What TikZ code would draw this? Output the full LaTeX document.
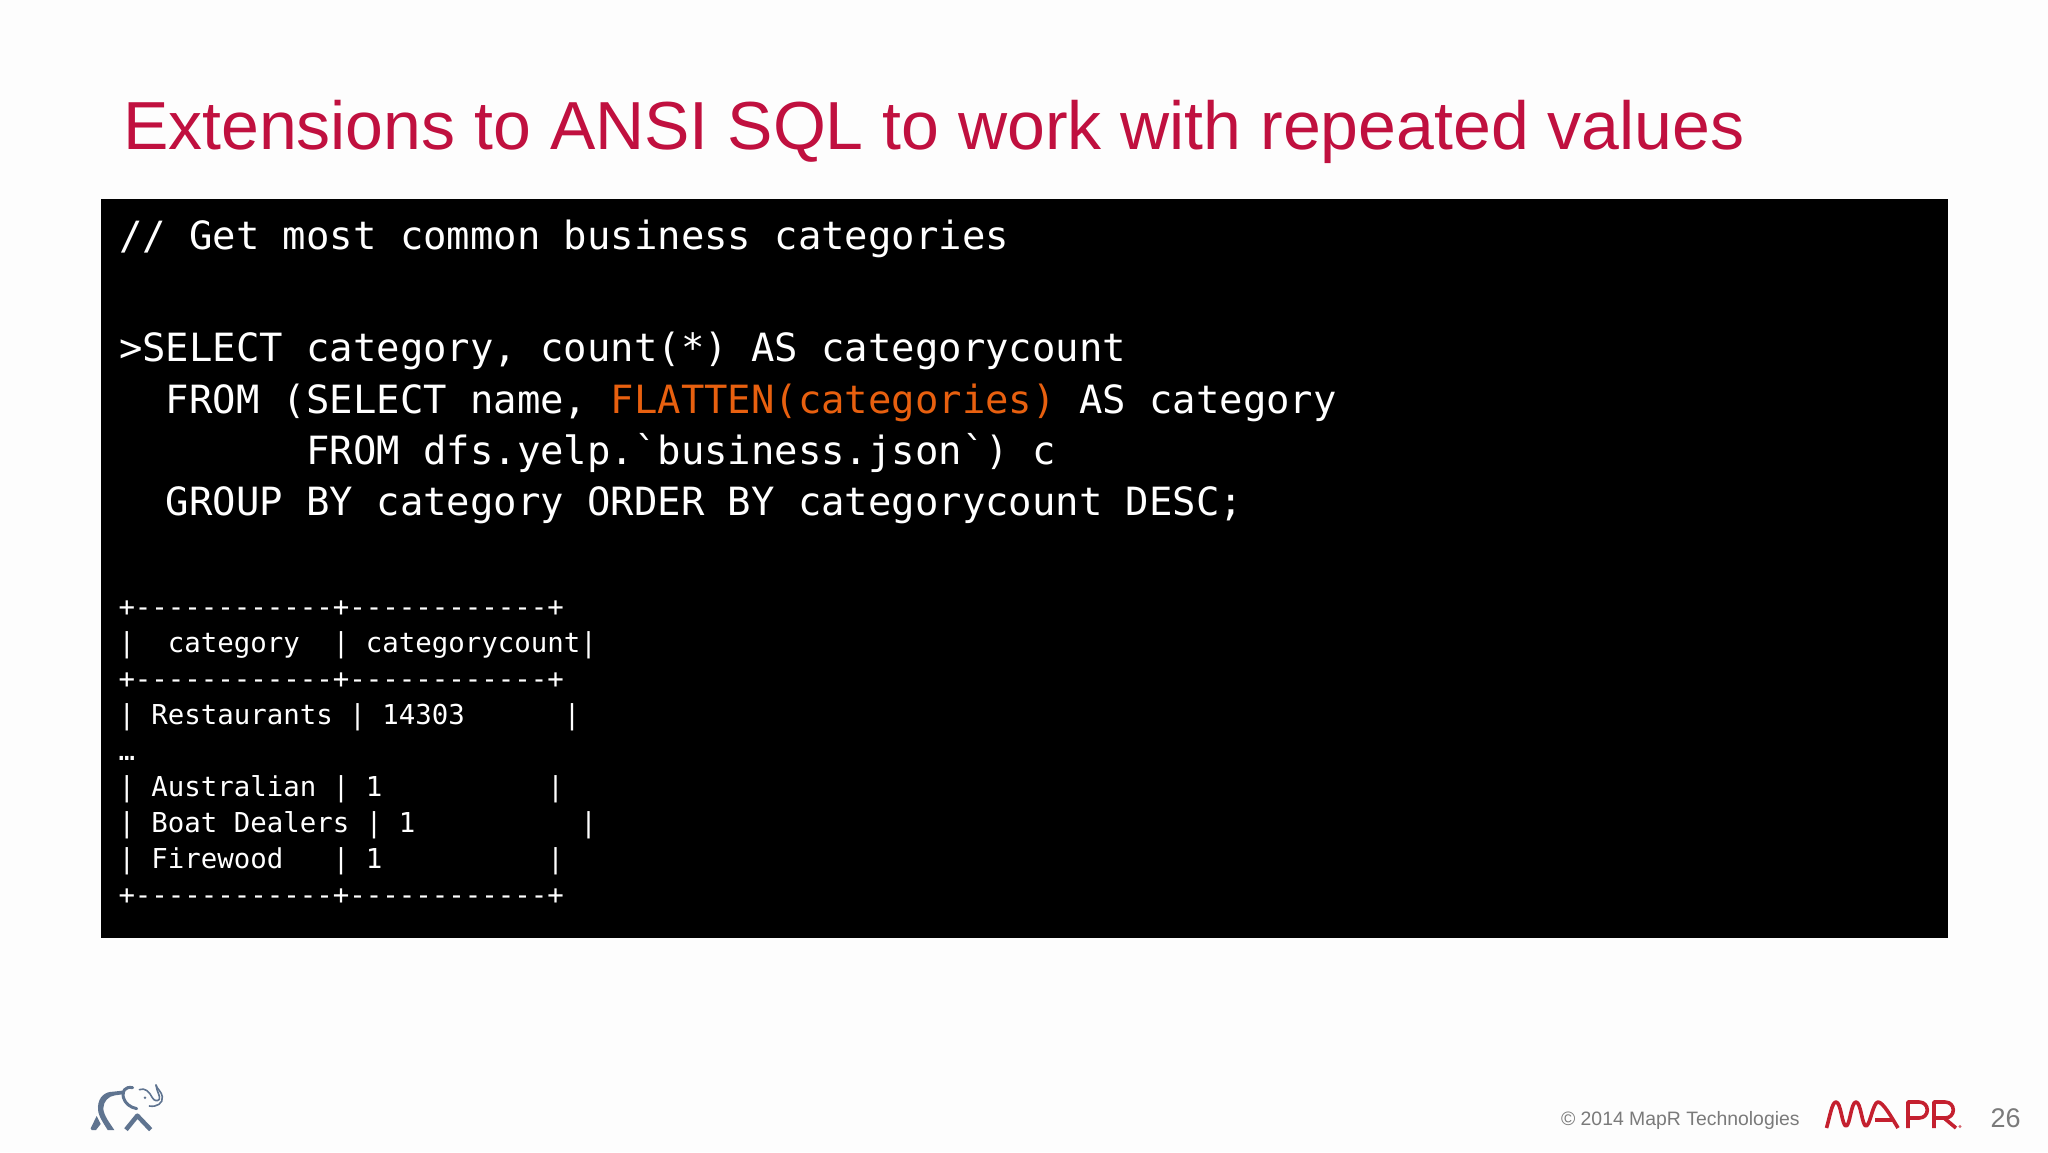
\documentclass[tikz,border=0pt]{standalone}
\usepackage{fontspec}
\newfontfamily\codef{DejaVu Sans Mono}
\newfontfamily\sansf{Liberation Sans}
\definecolor{titlered}{HTML}{C0103F}
\definecolor{hiorange}{HTML}{E8600F}
\definecolor{footgray}{HTML}{7A7A7A}
\definecolor{logored}{HTML}{C4202F}
\definecolor{elephant}{HTML}{5F7490}
\definecolor{pagebg}{HTML}{FDFDFD}
\tikzset{
 codeline/.style={anchor=base west,inner sep=0pt,outer sep=0pt,text=white,font=\codef\fontsize{38.9}{40}\selectfont},
 tableline/.style={anchor=base west,inner sep=0pt,outer sep=0pt,text=white,font=\codef\fontsize{27.4}{29}\selectfont},
 titletext/.style={anchor=base west,inner sep=0pt,outer sep=0pt,text=titlered,font=\sansf\fontsize{68}{70}\selectfont},
 foot/.style={anchor=base west,inner sep=0pt,outer sep=0pt,text=footgray,font=\sansf\fontsize{19.4}{21}\selectfont},
 elephantline/.style={draw=elephant,line cap=round,line join=round},
 maprline/.style={draw=logored,line width=3.6pt,line join=round}
}
\begin{document}
\begin{tikzpicture}[x=1pt,y=-1pt]
\useasboundingbox (0,0) rectangle (2048,1152);
\fill[pagebg] (0,0) rectangle (2048,1152);
\node[titletext] (title) at (123,149.5) {Extensions to ANSI SQL to work with repeated values};
\fill[black] (101,199) rectangle (1948,937.5);
\node[codeline] (c1) at (119,249) {//~Get~most~common~business~categories};
\node[codeline] (c2) at (119,361) {>SELECT~category,~count(*)~AS~categorycount};
\node[codeline] (c3) at (119,413) {~~FROM~(SELECT~name,~\textcolor{hiorange}{FLATTEN(categories)}~AS~category};
\node[codeline] (c4) at (119,464) {~~~~~~~~FROM~dfs.yelp.\symbol{96}business.json\symbol{96})~c};
\node[codeline] (c5) at (119,515) {~~GROUP~BY~category~ORDER~BY~categorycount~DESC;};
\node[tableline] (t1) at (118.5,616.3) {+------------+------------+};
\node[tableline] (t2) at (118.5,652.3) {|~~category~~|~categorycount|};
\node[tableline] (t3) at (118.5,688.3) {+------------+------------+};
\node[tableline] (t4) at (118.5,724.3) {|~Restaurants~|~14303~~~~~~|};
\node[tableline] (t5) at (118.5,760.3) {…};
\node[tableline] (t6) at (118.5,796.3) {|~Australian~|~1~~~~~~~~~~|};
\node[tableline] (t7) at (118.5,832.3) {|~Boat~Dealers~|~1~~~~~~~~~~|};
\node[tableline] (t8) at (118.5,868.3) {|~Firewood~~~|~1~~~~~~~~~~|};
\node[tableline] (t9) at (118.5,904.3) {+------------+------------+};
\node[foot] (copy) at (1561,1125) {© 2014 MapR Technologies};
\node[foot,font=\sansf\fontsize{27}{29}\selectfont] (page) at (1990.5,1127) {26};
% MapR logo
\draw[maprline] (1826.5,1128) .. controls (1830,1116) and (1832,1102) .. (1836,1102) .. controls (1841,1102) and (1842,1126) .. (1846,1126) .. controls (1850,1126) and (1851,1102) .. (1856,1102) .. controls (1861,1102) and (1862,1126) .. (1866,1126) .. controls (1870,1126) and (1873,1102) .. (1878,1102) .. controls (1883,1102) and (1892,1118) .. (1898,1128);
\draw[maprline] (1875,1120) -- (1893,1120);
\draw[maprline] (1908,1128) -- (1908,1102) -- (1919,1102) .. controls (1930,1102) and (1930,1118) .. (1919,1118) -- (1908,1118);
\draw[maprline] (1934,1128) -- (1934,1102) -- (1945,1102) .. controls (1956,1102) and (1956,1118) .. (1945,1118) -- (1934,1118);
\draw[maprline] (1944,1118) -- (1956,1128);
\fill[logored!70] (1960,1126.5) circle[radius=1.6];
% elephant logo
\begin{scope}[shift={(60,1050)},x=0.3333pt,y=-0.3333pt]
\fill[elephant] (92,235) -- (110,198) -- (122,222) -- (108,240) -- (95,240) -- cycle;
\fill[elephant] (143,240) .. controls (128,215) and (112,195) .. (114,170) .. controls (116,140) and (135,125) .. (160,125) -- (195,121) -- (195,132) -- (165,136) .. controls (145,138) and (130,155) .. (130,175) .. controls (130,195) and (150,220) .. (163,240) -- cycle;
\draw[elephantline,line width=3pt] (218,113) .. controls (195,108) and (185,125) .. (190,142) .. controls (195,160) and (210,172) .. (230,176);
\draw[elephantline,line width=1.6pt] (238,119) .. controls (255,112) and (268,125) .. (277,143) .. controls (282,152) and (292,155) .. (298,148) .. controls (302,138) and (290,125) .. (288,105);
\draw[elephantline,line width=1.6pt] (268,168) .. controls (290,172) and (310,160) .. (307,140) .. controls (305,125) and (292,118) .. (288,105);
\draw[elephantline,line width=4.5pt,line cap=butt] (198,239) -- (232,197) -- (272,239);
\fill[elephant] (255,143) circle[radius=4];
\end{scope}
\end{tikzpicture}
\end{document}
